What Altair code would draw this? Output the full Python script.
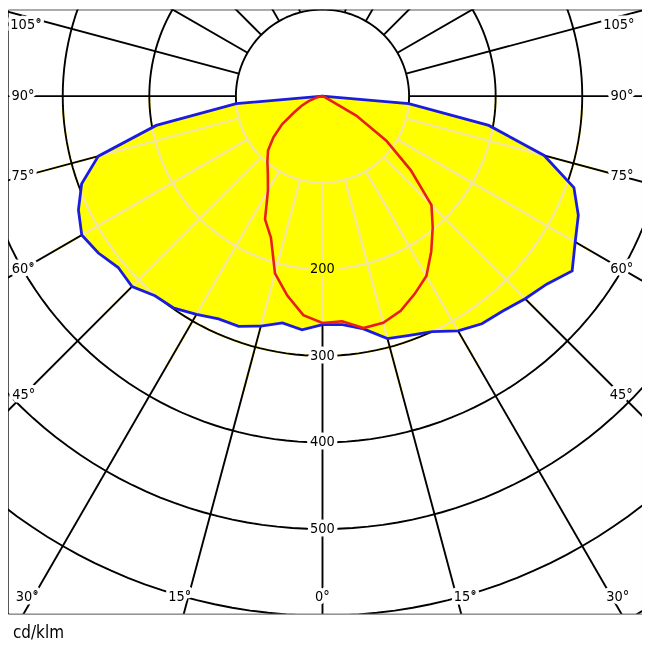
import altair as alt
import pandas as pd

# ---- data (cd/klm), gamma angles 0..90 step 5 ----
ANGLES = [0, 5, 10, 15, 20, 25, 30, 35, 40, 45, 50, 55, 60, 65, 70, 75, 80, 85, 90]
BLUE_LEFT = [264, 271, 266, 275, 283, 284, 291, 299, 301, 311, 308, 316, 321, 311, 296, 268, 195, 100, 0]
BLUE_RIGHT = [263, 265, 273, 290, 294, 300, 313, 321, 324, 331, 338, 352, 337, 326, 309, 265, 195, 100, 0]
RED_LEFT = [262, 254, 234, 212, 174, 157, 126, 110, 99, 89, 74, 57, 38, 27, 17, 8, 4, 2, 0]
RED_RIGHT = [262, 261, 272, 271, 264, 252, 240, 219, 198, 178, 133, 90, 45, 4, 2, 1, 0, 0, 0]

# grid
CIRCLE_R = [100, 200, 300, 400, 500, 600, 700, 800]
RADIAL_ANGLES = list(range(-180, 180, 15))
RADIAL_START = 100
RADIAL_END = 1000
LIT_MAX = 360  # extent of the light (in-fill) grid

# labels
ANGLE_LABELS = ["105°", "90°", "75°", "60°", "45°", "105°", "90°", "75°", "60°", "45°",
                "30°", "15°", "0°", "15°", "30°"]
ANGLE_LABEL_A = [-103.4, -90, -75, -60, -45, 103.4, 90, 75, 60, 45,
                 -30.5, -15.9, 0, 15.9, 30.5]
ANGLE_LABEL_R = [352, 346, 358, 399, 488, 352, 346, 358, 399, 488,
                 672, 602, 579, 602, 672]
VALUE_LABELS = [200, 300, 400, 500]
VALUE_HALO = ["#ffff00", "white", "white", "white"]

FONT = "DejaVu Sans Condensed, DejaVu Sans, sans-serif"

# ---- tables ----
def curve(left, right):
    rows = []
    i = 0
    for a, v in reversed(list(zip(ANGLES, left))):
        rows.append({"i": i, "a": -a, "r": v}); i += 1
    for a, v in list(zip(ANGLES, right))[1:]:
        rows.append({"i": i, "a": a, "r": v}); i += 1
    return pd.DataFrame(rows)

blue = curve(BLUE_LEFT, BLUE_RIGHT)
red = curve(RED_LEFT, RED_RIGHT)

circ_rows = []
for r in CIRCLE_R:
    for k, a in enumerate(range(-180, 182, 2)):
        circ_rows.append({"c": r, "i": k, "a": a, "r": r})
circles = pd.DataFrame(circ_rows)

radials = pd.DataFrame({"a": RADIAL_ANGLES, "r0": RADIAL_START, "r1": RADIAL_END})
alabels = pd.DataFrame({"t": ANGLE_LABELS, "a": ANGLE_LABEL_A, "r": ANGLE_LABEL_R})
vlabels = pd.DataFrame({"t": [str(v) for v in VALUE_LABELS], "a": 0, "r": VALUE_LABELS,
                        "halo": VALUE_HALO})

XS = alt.Scale(domain=[-363.2, 369.0], nice=False, zero=False)
YS = alt.Scale(domain=[-597.7, 100.0], nice=False, zero=False)

def pol(ch):
    return ch.transform_calculate(
        px="datum.r * sin(datum.a * PI / 180)",
        py="-datum.r * cos(datum.a * PI / 180)",
    )

def seg(ch, r1="datum.r1"):
    return ch.transform_calculate(
        px="datum.r0 * sin(datum.a * PI / 180)", py="-datum.r0 * cos(datum.a * PI / 180)",
        px2=f"{r1} * sin(datum.a * PI / 180)", py2=f"-{r1} * cos(datum.a * PI / 180)",
    )

def xy():
    return dict(x=alt.X("px:Q", scale=XS, axis=None), y=alt.Y("py:Q", scale=YS, axis=None))

circ_black = pol(alt.Chart(circles).mark_line(color="black", strokeWidth=1.9, clip=True)).encode(
    **xy(), detail="c:N", order="i:Q")
rad_black = seg(alt.Chart(radials).mark_rule(color="black", strokeWidth=1.9, clip=True)).encode(
    **xy(), x2="px2:Q", y2="py2:Q")

fill = pol(alt.Chart(blue).mark_line(fill="#ffff00", stroke="#ffff00", strokeWidth=0.5, clip=True)).encode(
    **xy(), order="i:Q")

# light grid inside the lit area: colour-blended, so it vanishes over white and stays black over black
BEIGE = "#e0d490"
circ_beige = pol(
    alt.Chart(circles).mark_line(color=BEIGE, strokeWidth=2.3, blend="color")
    .transform_filter(f"datum.r <= {LIT_MAX} && abs(datum.a) <= 90")
).encode(**xy(), detail="c:N", order="i:Q")
rad_beige = seg(
    alt.Chart(radials).mark_rule(color=BEIGE, strokeWidth=2.3, blend="color")
    .transform_filter("abs(datum.a) <= 90"),
    r1=str(LIT_MAX),
).encode(**xy(), x2="px2:Q", y2="py2:Q")

blue_line = pol(alt.Chart(blue).mark_line(color="#1c1ce0", strokeWidth=2.8, clip=True)).encode(
    **xy(), order="i:Q")
red_line = pol(alt.Chart(red).mark_line(color="#ea1c1c", strokeWidth=2.6, clip=True)).encode(
    **xy(), order="i:Q")

alab_halo = pol(alt.Chart(alabels).mark_text(font=FONT, fontSize=14.5, color="white", stroke="white",
                                               strokeWidth=7, strokeJoin="round")).encode(**xy(), text="t:N")
alab = pol(alt.Chart(alabels).mark_text(font=FONT, fontSize=14.5, color="black")).encode(**xy(), text="t:N")
vlab_halo = pol(alt.Chart(vlabels).mark_text(font=FONT, fontSize=14.5, strokeWidth=7, strokeJoin="round")).encode(
    **xy(), text="t:N", color=alt.Color("halo:N", scale=None), stroke=alt.Stroke("halo:N", scale=None))
vlab = pol(alt.Chart(vlabels).mark_text(font=FONT, fontSize=14.5, color="black")).encode(**xy(), text="t:N")

chart = alt.layer(
    circ_black, rad_black, fill, circ_beige, rad_beige, blue_line, red_line,
    alab_halo, alab, vlab_halo, vlab,
).properties(
    width=637, height=607,
    padding={"left": 0, "top": 0, "right": 0, "bottom": 30},
    background="white",
    autosize=alt.AutoSizeParams(type="none"),
    title=alt.TitleParams("cd/klm", orient="bottom", anchor="start", fontSize=17,
                          fontWeight="normal", font=FONT, color="black", dx=5, offset=11),
).configure_view(stroke="#555555", strokeWidth=1)

chart.save("out.html", embed_options={"renderer": "svg", "actions": False})
